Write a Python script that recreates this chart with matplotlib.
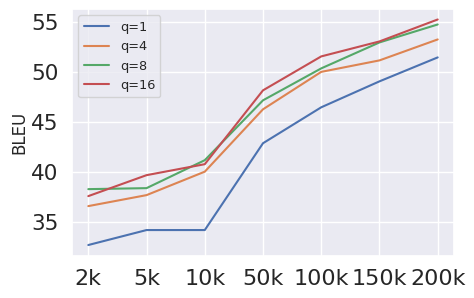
import matplotlib
matplotlib.use("Agg")
import matplotlib.pyplot as plt
import seaborn as sns

sns.set_theme(style="darkgrid")
plt.rcParams['font.family'] = ['DejaVu Sans']

x_labels = ["2k", "5k", "10k", "50k", "100k", "150k", "200k"]
q1 = [32.7, 34.2, 34.2, 42.9, 46.5, 49.1, 51.5]
q4 = [36.6, 37.7, 40.05, 46.3, 50.05, 51.2, 53.3]
q8 = [38.3, 38.4, 41.2, 47.2, 50.4, 53.0, 54.8]
q16 = [37.6, 39.7, 40.8, 48.2, 51.6, 53.1, 55.3]
series = [("q=1", q1), ("q=4", q4), ("q=8", q8), ("q=16", q16)]

fig = plt.figure(figsize=(4.74, 2.98), dpi=100)
ax = fig.add_axes([72/474, 1 - 256/298, (454-72)/474, (256-9)/298])
xs = list(range(len(x_labels)))
for name, vals in series:
    ax.plot(xs, vals, label=name, linewidth=1.5)
ax.set_xticks(xs)
ax.set_xticklabels(x_labels)
ax.set_yticks([35, 40, 45, 50, 55])
ax.set_ylim(31.6, 56.35)
ax.set_xlim(-0.28, 6.28)
ax.tick_params(axis='x', labelsize=16)
ax.tick_params(axis='y', labelsize=15.5)
ax.set_ylabel("BLEU", fontsize=12, labelpad=2)
ax.legend(loc="upper left", fontsize=9.3)
fig.savefig("out.png", dpi=100)
